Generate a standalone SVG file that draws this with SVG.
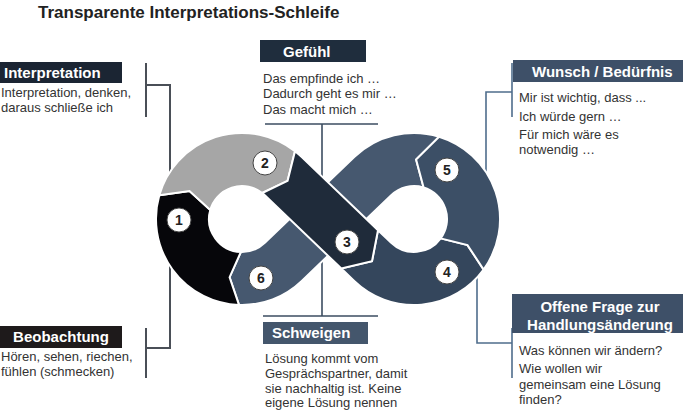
<svg xmlns="http://www.w3.org/2000/svg" width="685" height="413" viewBox="0 0 685 413">
<style>
.t{font-family:"Liberation Sans",Arial,sans-serif}
.title{font-size:17px;font-weight:bold;fill:#222}
.hd{font-size:15px;font-weight:bold;fill:#fff}
.bd{font-size:13px;fill:#333}
.seg{stroke:#fff;stroke-width:2;stroke-linejoin:miter}
.num{fill:#fff;stroke:#444;stroke-width:1}
.nt{font-size:14px;font-weight:bold;fill:#222;text-anchor:middle}
.lg{fill:none;stroke:#4a4f57;stroke-width:2}
.lm{fill:none;stroke:#3d4e62;stroke-width:1.6}
.lb{fill:none;stroke:#4f6d8c;stroke-width:1.6}
</style>
<rect width="685" height="413" fill="#fff"/>
<text class="t title" x="38" y="17.5">Transparente Interpretations-Schleife</text>

<g id="connectors">
  <path class="lg" d="M146 63 V117 M146 85 H170 V348 H146 M146 328 V378"/>
  <path class="lm" d="M265 124 H378 M322 124 V316 M263 316 H378"/>
  <path class="lb" d="M512 63 V117 M512 92 H486 V219"/>
  <path class="lb" d="M512 328 V378 M512 343 H477 V219"/>
</g>

<g id="loop">
  <path id="seg6" class="seg" fill="#46586f" d="M423.6,187.4 L416.1,159.5 L439.1,136.8 A86,86 0 0 0 354.5,156.9 L264.8,242.8 A33,33 0 0 1 240.85,252 L229.6,277.2 L239,304.9 A86,86 0 0 0 301.5,281.1 L391.2,195.2 A33,33 0 0 1 423.6,187.4 Z"/>
  <path id="seg1" class="seg" fill="#06060a" d="M240.85,252 L229.6,277.2 L239,304.9 A86,86 0 0 1 159.3,195.3 L189.5,191.1 L210.3,209.9 A33,33 0 0 0 240.85,252 Z"/>
  <path id="seg2" class="seg" fill="#a6a6a6" d="M210.3,209.9 L189.5,191.1 L159.3,195.3 A86,86 0 0 1 295,151.2 L287.6,180.8 L262.3,193 A33,33 0 0 0 210.3,209.9 Z"/>
  <path id="seg4" class="seg" fill="#34465c" d="M378,230.2 L372,261.1 L341.3,268.5 L354.5,281.1 A86,86 0 0 0 483.6,269.6 L467.5,245.1 L440.7,238.4 A33,33 0 0 1 391.2,242.8 Z"/>
  <path id="seg5" class="seg" fill="#3c4f66" d="M440.7,238.4 L467.5,245.1 L483.6,269.6 A86,86 0 0 0 439.1,136.8 L416.1,159.5 L423.6,187.4 A33,33 0 0 1 440.7,238.4 Z"/>
  <path id="seg3" class="seg" fill="#1f2b3a" d="M262.3,193 L287.6,180.8 L295,151.2 A86,86 0 0 1 301.5,156.9 L378,230.2 L372,261.1 L341.3,268.5 L264.8,195.2 A33,33 0 0 0 262.3,193 Z"/>
</g>

<g id="n1"><circle class="num" cx="179" cy="220" r="12"/><text class="t nt" x="179" y="225">1</text></g>
<g id="n2"><circle class="num" cx="265" cy="163" r="12"/><text class="t nt" x="265" y="168">2</text></g>
<g id="n3"><circle class="num" cx="347" cy="242" r="12"/><text class="t nt" x="347" y="247">3</text></g>
<g id="n4"><circle class="num" cx="447" cy="272" r="12"/><text class="t nt" x="447" y="277">4</text></g>
<g id="n5"><circle class="num" cx="447" cy="170" r="12"/><text class="t nt" x="447" y="175">5</text></g>
<g id="n6"><circle class="num" cx="261" cy="278" r="12"/><text class="t nt" x="261" y="283">6</text></g>

<g id="interpretation">
  <rect x="0" y="62" width="122" height="21" fill="#1b2533"/>
  <text class="t hd" x="4" y="78">Interpretation</text>
  <text class="t bd" x="1" y="97">Interpretation, denken,</text>
  <text class="t bd" x="1" y="112">daraus schließe ich</text>
</g>

<g id="gefuehl">
  <rect x="260" y="40" width="106" height="22" fill="#1f2d3d"/>
  <text class="t hd" x="283" y="56.5">Gefühl</text>
  <text class="t bd" x="263" y="83">Das empfinde ich …</text>
  <text class="t bd" x="263" y="97.5">Dadurch geht es mir …</text>
  <text class="t bd" x="263" y="114">Das macht mich …</text>
</g>

<g id="wunsch">
  <rect x="513" y="60" width="170" height="22" fill="#3e5068"/>
  <text class="t hd" x="532" y="76.5">Wunsch / Bedürfnis</text>
  <text class="t bd" x="519" y="102">Mir ist wichtig, dass ...</text>
  <text class="t bd" x="519" y="121">Ich würde gern …</text>
  <text class="t bd" x="519" y="139">Für mich wäre es</text>
  <text class="t bd" x="519" y="154">notwendig …</text>
</g>

<g id="schweigen">
  <rect x="263" y="322" width="105" height="22" fill="#44566c"/>
  <text class="t hd" x="272" y="338">Schweigen</text>
  <text class="t bd" x="265" y="362.5">Lösung kommt vom</text>
  <text class="t bd" x="265" y="377.5">Gesprächspartner, damit</text>
  <text class="t bd" x="265" y="392.5">sie nachhaltig ist. Keine</text>
  <text class="t bd" x="265" y="407">eigene Lösung nennen</text>
</g>

<g id="offene-frage">
  <rect x="512" y="294" width="171" height="39" fill="#3e5068"/>
  <text class="t hd" x="600" y="311.5" text-anchor="middle">Offene Frage zur</text>
  <text class="t hd" x="600" y="330" text-anchor="middle">Handlungsänderung</text>
  <text class="t bd" x="519" y="355">Was können wir ändern?</text>
  <text class="t bd" x="519" y="372.5">Wie wollen wir</text>
  <text class="t bd" x="519" y="388.5">gemeinsam eine Lösung</text>
  <text class="t bd" x="519" y="404">finden?</text>
</g>

<g id="beobachtung">
  <rect x="0" y="326" width="122" height="22" fill="#1e1a1b"/>
  <text class="t hd" x="61" y="342" text-anchor="middle">Beobachtung</text>
  <text class="t bd" x="1" y="361">Hören, sehen, riechen,</text>
  <text class="t bd" x="1" y="376">fühlen (schmecken)</text>
</g>
</svg>
